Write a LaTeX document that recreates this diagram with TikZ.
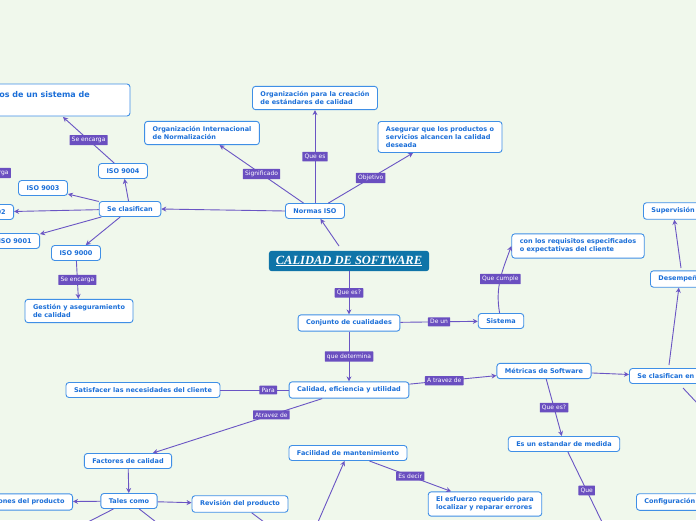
\documentclass[tikz,border=0pt]{standalone}
\usepackage{fontspec}
\setmainfont{DejaVu Sans}
\newfontfamily\titlefont{Liberation Serif}
\usetikzlibrary{arrows.meta}
\definecolor{bg}{HTML}{F0F8EC}
\definecolor{bd}{HTML}{3F8FE6}
\definecolor{tx}{HTML}{1A6ED8}
\definecolor{lb}{HTML}{6A4FC0}
\definecolor{ln}{HTML}{6A55C4}
\definecolor{tt}{HTML}{0F74A8}
\begin{document}
\begin{tikzpicture}[x=1pt,y=-1pt,
 box/.style={draw=bd,line width=0.9pt,fill=white,rounded corners=3pt,text=tx,font=\fontsize{6.5}{8}\selectfont\bfseries,inner xsep=8pt,inner ysep=5pt,align=left},
 lab/.style={fill=lb,text=white,font=\fontsize{6}{6.5}\selectfont,inner sep=2.2pt,rounded corners=0.5pt},
 con/.style={draw=ln,line width=0.9pt},
 arr/.style={con,-{Stealth[length=5pt,width=5pt]}}]
\fill[bg] (0,0) rectangle (696,520);
\useasboundingbox (0,0) rectangle (696,520);
\node[fill=tt,rounded corners=3pt,text=white,inner xsep=7pt,inner ysep=5pt,font=\titlefont\fontsize{12.5}{13}\selectfont\bfseries\itshape] (title) at (349,261) {\underline{CALIDAD DE SOFTWARE}};
\node[box] (normas) at (315,211) {Normas ISO};
\node[box] (orgc) at (315,98) {Organización para la creación\\de estándares de calidad};
\node[box] (orgi) at (202,133) {Organización Internacional\\de Normalización};
\node[box] (aseg) at (440,137) {Asegurar que los productos o\\servicios alcancen la calidad\\deseada};
\node[box] (secl) at (130,209) {Se clasifican};
\node[box] (i4) at (123,171) {ISO 9004};
\draw[draw=bd,line width=0.9pt,fill=white,rounded corners=3pt] (-150,84) rectangle (130,116);
\node[anchor=base east,text=tx,font=\fontsize{8}{9}\selectfont\bfseries,inner sep=0pt] (req) at (90,97) {Requisitos de un sistema de};
\coordinate (reqb) at (63,117);
\node[box] (i3) at (43,188) {ISO 9003};
\node[box,anchor=east] (i2) at (14,212) {ISO 9002};
\node[box,anchor=east] (i1) at (40,241) {ISO 9001};
\node[box] (i0) at (76,253) {ISO 9000};
\node[box] (gest) at (79,311) {Gestión y aseguramiento\\de calidad};
\node[lab,anchor=east] at (11,173) {Se encarga};
\node[box] (conj) at (349,323) {Conjunto de cualidades};
\node[box] (sist) at (501,321) {Sistema};
\node[box] (req2) at (578,246) {con los requisitos especificados\\o expectativas del cliente};
\node[box] (cal) at (349,390) {Calidad, eficiencia y utilidad};
\node[box] (sat) at (143,390) {Satisfacer las necesidades del cliente};
\node[box] (met) at (544,371) {Métricas de Software};
\node[box] (fac) at (128,461) {Factores de calidad};
\node[box] (tal) at (129,501) {Tales como};
\node[box,anchor=east] (ope) at (73,502) {Operaciones del producto};
\node[box] (rev) at (240,504) {Revisión del producto};
\node[box] (facm) at (348,453) {Facilidad de mantenimiento};
\node[box] (esf) at (485,504) {El esfuerzo requerido para\\localizar y reparar errores};
\node[box,anchor=west] (secle) at (629,376) {Se clasifican en};
\node[box] (est) at (564,444) {Es un estandar de medida};
\node[box,anchor=west] (des) at (650,279) {Desempeño};
\node[box,anchor=west] (sup) at (643,211) {Supervisión};
\node[box,anchor=west] (conf) at (636,502) {Configuración};
\coordinate (c1) at (318,522); \coordinate (c2) at (88,522); \coordinate (c3) at (156,522);
\coordinate (c4) at (264,522); \coordinate (c5) at (602,522); \coordinate (c6) at (698,404);
\coordinate (t0) at (339,246); \coordinate (sc0) at (669,365); \coordinate (de0) at (681,268);
\coordinate (sc1) at (683,388);
% edges
\draw[arr] (t0) -- (normas);
\draw[arr] (normas.west) -- (secl.east);
\draw[arr] (normas) -- node[lab]{Significado} (orgi);
\draw[arr] (normas) -- node[lab]{Que es} (orgc);
\draw[arr] (normas) -- node[lab]{Objetivo} (aseg);
\draw[arr] (secl) -- (i4);
\draw[arr] (secl) -- (i3);
\draw[arr] (secl) -- (i2);
\draw[arr] (secl) -- (i1);
\draw[arr] (secl) -- (i0);
\draw[arr] (i4) -- node[lab]{Se encarga} (reqb);
\draw[arr] (i0) -- node[lab]{Se encarga} (gest);
\draw[arr] (title) -- node[lab]{Que es?} (conj);
\draw[arr] (conj) -- node[lab]{De un} (sist);
\draw[arr] (sist) to[out=100,in=250] node[lab]{Que cumple} (req2.west);
\draw[arr] (conj) -- node[lab]{que determina} (cal);
\draw[con] (cal) -- node[lab,pos=0.3]{Para} (sat);
\draw[arr] (cal) -- node[lab,pos=0.4]{A travez de} (met);
\draw[arr] (cal) -- node[lab,pos=0.3]{Atravez de} (fac);
\draw[arr] (fac) -- (tal);
\draw[arr] (tal) -- (ope);
\draw[arr] (tal) -- (rev);
\draw[con] (tal) -- (c2); \draw[con] (tal) -- (c3); \draw[con] (rev) -- (c4);
\draw[arr] (c1) -- (facm);
\draw[arr] (facm) -- node[lab]{Es decir} (esf);
\draw[arr] (met) -- (secle);
\draw[arr] (met) -- node[lab]{Que es?} (est);
\draw[con] (est) -- node[lab,pos=0.55]{Que} (c5);
\draw[arr] (sc0) -- (des);
\draw[arr] (de0) -- (sup);
\draw[con] (sc1) -- (c6);
\end{tikzpicture}
\end{document}
